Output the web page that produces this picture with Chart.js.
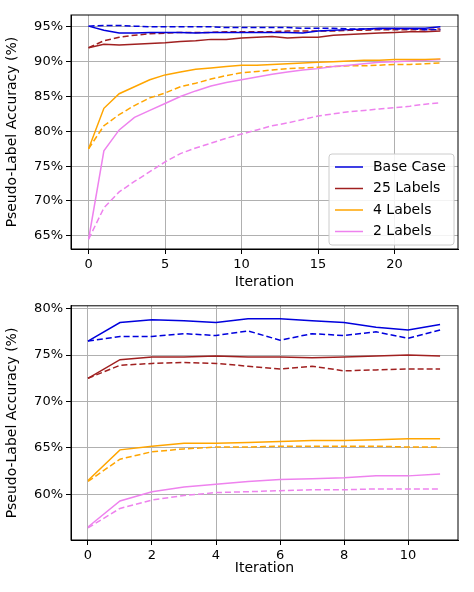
<!DOCTYPE html><html><head><script src="https://cdn.jsdelivr.net/npm/chart.js@4"></script>
<style>body{margin:0;background:#fff}div{position:absolute;left:0;width:474px}</style></head><body>
<div style="top:0;height:295px"><canvas id="c1"></canvas></div>
<div style="top:295px;height:286px"><canvas id="c2"></canvas></div>
<script>
const names=["Base Case","25 Labels","4 Labels","2 Labels"];
const colors=["#0000dd","#a02020","#ffa500","#ee82ee"];
const topIter=[...Array(24).keys()];
const topSolid=[
[95.1,94.5,94.1,94.1,94.2,94.2,94.2,94.1,94.2,94.2,94.2,94.2,94.2,94.2,94.1,94.4,94.5,94.6,94.7,94.8,94.8,94.8,94.8,95.0],
[92.0,92.5,92.4,92.5,92.6,92.7,92.9,93.0,93.2,93.2,93.4,93.5,93.6,93.4,93.5,93.5,93.8,93.9,94.0,94.1,94.2,94.3,94.3,94.4],
[77.5,83.3,85.4,86.4,87.4,88.1,88.5,88.9,89.1,89.3,89.5,89.5,89.6,89.7,89.8,89.9,90.0,90.1,90.2,90.2,90.3,90.3,90.3,90.4],
[64.5,77.2,80.2,82.0,83.0,84.0,85.0,85.8,86.5,87.0,87.4,87.8,88.2,88.5,88.8,89.0,89.3,89.5,89.7,89.9,90.0,90.1,90.2,90.3]];
const topDashed=[
[95.1,95.2,95.2,95.1,95.0,95.0,95.0,95.0,95.0,94.9,94.9,94.9,94.9,94.9,94.8,94.8,94.8,94.7,94.7,94.7,94.7,94.7,94.6,94.6],
[92.0,93.0,93.5,93.8,94.0,94.1,94.2,94.2,94.2,94.3,94.3,94.3,94.3,94.4,94.4,94.4,94.4,94.5,94.5,94.6,94.6,94.6,94.6,94.7],
[77.5,80.8,82.4,83.7,84.8,85.5,86.4,86.9,87.5,88.0,88.4,88.6,88.8,89.0,89.1,89.2,89.3,89.4,89.4,89.5,89.6,89.6,89.7,89.8],
[64.5,69.0,71.3,72.8,74.2,75.6,76.8,77.6,78.3,79.0,79.6,80.2,80.8,81.2,81.7,82.2,82.5,82.8,83.0,83.2,83.4,83.6,83.9,84.1]];
const botIter=[...Array(12).keys()];
const botSolid=[
[76.5,78.5,78.8,78.7,78.5,78.9,78.9,78.7,78.5,78.0,77.7,78.3],
[72.5,74.5,74.8,74.8,74.9,74.8,74.8,74.7,74.8,74.9,75.0,74.9],
[61.5,64.8,65.2,65.5,65.5,65.6,65.7,65.8,65.8,65.9,66.0,66.0],
[56.5,59.3,60.3,60.8,61.1,61.4,61.6,61.7,61.8,62.0,62.0,62.2]];
const botDashed=[
[76.5,77.0,77.0,77.3,77.1,77.6,76.6,77.3,77.1,77.5,76.8,77.7],
[72.5,73.9,74.1,74.2,74.1,73.8,73.5,73.8,73.3,73.4,73.5,73.5],
[61.4,63.8,64.6,64.9,65.1,65.1,65.2,65.2,65.2,65.2,65.1,65.1],
[56.4,58.5,59.4,59.9,60.2,60.3,60.4,60.5,60.5,60.6,60.6,60.6]];
const F={family:"DejaVu Sans",size:13};
const frame={id:"frame",afterDraw(c,a,o){const g=c.ctx,r=c.chartArea;g.save();g.strokeStyle="#000";g.lineWidth=1;g.strokeRect(r.left,r.top,r.right-r.left,r.bottom-r.top);
if(o.legend){const x=r.right-129,y=r.bottom-95,w=125,h=91;g.fillStyle="rgba(255,255,255,0.85)";g.strokeStyle="#ccc";g.beginPath();g.roundRect(x,y,w,h,3);g.fill();g.stroke();
g.font="14px DejaVu Sans";g.textBaseline="middle";names.forEach((n,i)=>{const yy=y+13+i*21.5;g.strokeStyle=colors[i];g.lineWidth=1.5;g.beginPath();g.moveTo(x+6,yy);g.lineTo(x+34,yy);g.stroke();g.fillStyle="#000";g.fillText(n,x+44,yy);});}
g.restore();}};
function mk(id,xs,S,D,xmin,xmax,xstep,ymin,ymax,pad,axH,leg){
const ds=[];S.forEach((s,i)=>ds.push({data:s.map((v,j)=>({x:xs[j],y:v})),borderColor:colors[i],borderWidth:1.5,pointRadius:0,tension:0}));
D.forEach((s,i)=>ds.push({data:s.map((v,j)=>({x:xs[j],y:v})),borderColor:colors[i],borderWidth:1.5,borderDash:[6,3],pointRadius:0,tension:0}));
new Chart(document.getElementById(id),{type:"line",data:{datasets:ds},plugins:[frame],options:{animation:false,responsive:true,maintainAspectRatio:false,
layout:{padding:{top:pad,right:16,left:0,bottom:0}},plugins:{legend:{display:false},tooltip:{enabled:false},frame:{legend:leg}},
scales:{x:{type:"linear",min:xmin,max:xmax,afterBuildTicks:a=>{a.ticks=[];for(let v=0;v<=xmax;v+=xstep)a.ticks.push({value:v});},afterFit:a=>{a.height=axH},
ticks:{font:F,color:"#000"},grid:{color:"#b0b0b0",tickColor:"#000",tickLength:5},border:{color:"#000"},title:{display:true,text:"Iteration",font:{family:"DejaVu Sans",size:14},color:"#000",padding:{top:0}}},
y:{min:ymin,max:ymax,afterBuildTicks:a=>{a.ticks=[];for(let v=Math.ceil(ymin/5)*5;v<=ymax;v+=5)a.ticks.push({value:v});},afterFit:a=>{a.width=71},
ticks:{font:F,color:"#000",callback:v=>v+"%"},grid:{color:"#b0b0b0",tickColor:"#000",tickLength:5},border:{color:"#000"},title:{display:true,text:"Pseudo-Label Accuracy (%)",font:{family:"DejaVu Sans",size:14},color:"#000",padding:{bottom:2}}}}}});}
mk("c1",topIter,topSolid,topDashed,-1.15,24.15,5,63.1,96.7,15,46,true);
mk("c2",botIter,botSolid,botDashed,-0.53,11.56,2,55.1,80.3,8,41,false);
</script></body></html>
